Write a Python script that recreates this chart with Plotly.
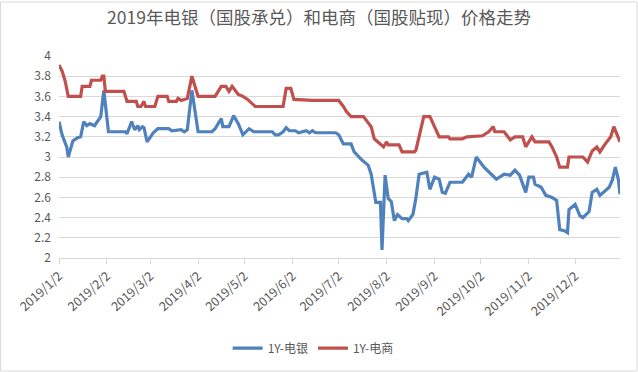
import plotly.graph_objects as go

# 1Y-电银 (blue)
bank_dates = ["2019-01-02","2019-01-04","2019-01-07","2019-01-08","2019-01-11","2019-01-14","2019-01-16","2019-01-18",
              "2019-01-20","2019-01-22","2019-01-25","2019-01-27","2019-01-29","2019-01-31","2019-02-03","2019-02-14",
              "2019-02-15","2019-02-18","2019-02-20","2019-02-22","2019-02-23","2019-02-25","2019-02-26","2019-02-28",
              "2019-03-04","2019-03-07","2019-03-14","2019-03-16","2019-03-22","2019-03-24","2019-03-26","2019-03-29",
              "2019-04-02","2019-04-11","2019-04-13","2019-04-15","2019-04-17","2019-04-18","2019-04-22","2019-04-25",
              "2019-04-28","2019-05-01","2019-05-03","2019-05-05","2019-05-08","2019-05-20","2019-05-22","2019-05-24",
              "2019-05-27","2019-05-29","2019-05-31","2019-06-04","2019-06-06","2019-06-11","2019-06-13","2019-06-15",
              "2019-06-17","2019-06-30","2019-07-02","2019-07-05","2019-07-10","2019-07-12","2019-07-17","2019-07-21",
              "2019-07-23","2019-07-26","2019-07-29","2019-07-30","2019-08-01","2019-08-03","2019-08-05","2019-08-07",
              "2019-08-09","2019-08-12","2019-08-15","2019-08-16","2019-08-19","2019-08-21","2019-08-23","2019-08-28",
              "2019-08-30","2019-09-02","2019-09-05","2019-09-07","2019-09-09","2019-09-12","2019-09-20","2019-09-24",
              "2019-09-26","2019-09-29","2019-10-04","2019-10-09","2019-10-12","2019-10-17","2019-10-21","2019-10-24",
              "2019-10-27","2019-10-31","2019-11-02","2019-11-05","2019-11-06","2019-11-10","2019-11-13","2019-11-17",
              "2019-11-20","2019-11-22","2019-11-25","2019-11-27","2019-11-28","2019-12-02","2019-12-05","2019-12-07",
              "2019-12-11","2019-12-13","2019-12-16","2019-12-18","2019-12-24","2019-12-26","2019-12-28","2019-12-30",
              "2019-12-31"]
bank_values = [3.35,3.22,3.10,3.00,3.16,3.19,3.20,3.35,
               3.31,3.33,3.31,3.35,3.40,3.66,3.25,3.25,
               3.23,3.35,3.27,3.31,3.27,3.30,3.29,3.15,
               3.24,3.28,3.28,3.26,3.27,3.25,3.27,3.66,
               3.25,3.25,3.28,3.33,3.38,3.30,3.30,3.41,
               3.33,3.22,3.25,3.28,3.25,3.25,3.22,3.22,
               3.25,3.29,3.26,3.26,3.24,3.26,3.24,3.26,
               3.24,3.24,3.22,3.13,3.13,3.05,2.97,2.92,
               2.83,2.55,2.55,2.08,2.82,2.59,2.56,2.37,
               2.43,2.39,2.39,2.37,2.43,2.60,2.83,2.85,
               2.68,2.80,2.78,2.65,2.64,2.75,2.75,2.83,
               2.80,3.00,2.90,2.83,2.78,2.83,2.82,2.87,
               2.82,2.65,2.80,2.80,2.73,2.70,2.62,2.60,
               2.57,2.28,2.27,2.25,2.48,2.53,2.42,2.40,
               2.46,2.65,2.68,2.62,2.70,2.77,2.90,2.77,
               2.63]

# 1Y-电商 (red)
comm_dates = ["2019-01-02","2019-01-04","2019-01-06","2019-01-08","2019-01-16","2019-01-17","2019-01-22","2019-01-23",
              "2019-01-29","2019-01-30","2019-01-31","2019-02-01","2019-02-13","2019-02-14","2019-02-15","2019-02-21",
              "2019-02-22","2019-02-24","2019-02-26","2019-02-27","2019-03-05","2019-03-07","2019-03-13","2019-03-14",
              "2019-03-19","2019-03-20","2019-03-22","2019-03-26","2019-03-29","2019-04-02","2019-04-13","2019-04-17",
              "2019-04-20","2019-04-22","2019-04-24","2019-04-28","2019-05-01","2019-05-04","2019-05-08","2019-05-09",
              "2019-05-27","2019-05-29","2019-06-01","2019-06-03","2019-06-15","2019-07-02","2019-07-05","2019-07-07",
              "2019-07-10","2019-07-18","2019-07-23","2019-07-25","2019-07-31","2019-08-02","2019-08-03","2019-08-10",
              "2019-08-12","2019-08-20","2019-08-21","2019-08-26","2019-08-30","2019-09-05","2019-09-11","2019-09-12",
              "2019-09-20","2019-09-23","2019-10-03","2019-10-07","2019-10-10","2019-10-11","2019-10-17","2019-10-21",
              "2019-10-24","2019-10-29","2019-10-31","2019-11-04","2019-11-06","2019-11-15","2019-11-17","2019-11-20",
              "2019-11-22","2019-11-27","2019-11-28","2019-12-07","2019-12-10","2019-12-13","2019-12-16","2019-12-18",
              "2019-12-21","2019-12-25","2019-12-27","2019-12-29","2019-12-31"]
comm_values = [3.91,3.85,3.75,3.60,3.60,3.70,3.70,3.76,
               3.76,3.80,3.80,3.65,3.65,3.60,3.55,3.55,
               3.50,3.50,3.55,3.50,3.50,3.60,3.60,3.55,
               3.55,3.58,3.56,3.58,3.80,3.60,3.60,3.70,
               3.70,3.65,3.70,3.62,3.60,3.57,3.52,3.50,
               3.50,3.68,3.68,3.57,3.56,3.56,3.50,3.45,
               3.40,3.40,3.30,3.18,3.10,3.15,3.12,3.12,
               3.05,3.05,3.07,3.40,3.40,3.20,3.20,3.18,
               3.18,3.20,3.21,3.25,3.30,3.25,3.25,3.17,
               3.20,3.20,3.10,3.20,3.15,3.15,3.10,3.00,
               2.90,2.90,3.00,3.00,2.95,3.06,3.10,3.05,
               3.12,3.20,3.30,3.23,3.15]

tick_dates = ["2019-%02d-02" % m for m in range(1, 13)]
tick_labels = ["2019/%d/2" % m for m in range(1, 13)]

title_text = "2019年电银（国股承兑）和电商（国股贴现）价格走势"
font_family = "Noto Sans CJK SC, Noto Sans, sans-serif"

fig = go.Figure()
fig.add_trace(go.Scatter(x=bank_dates, y=bank_values, mode="lines", name="1Y-电银",
                         line=dict(color="#4F81BD", width=3.2)))
fig.add_trace(go.Scatter(x=comm_dates, y=comm_values, mode="lines", name="1Y-电商",
                         line=dict(color="#C0504D", width=3.2)))

fig.update_layout(
    width=638, height=372,
    margin=dict(l=59, r=18, t=56, b=114, autoexpand=False),
    paper_bgcolor="white", plot_bgcolor="white",
    font=dict(family=font_family, color="#595959", size=11),
    title=dict(text=title_text, x=0.5, xanchor="center", y=0.952, yanchor="middle",
               font=dict(size=17.5, color="#595959", family=font_family)),
    showlegend=True,
    legend=dict(orientation="h", x=0.453, xanchor="center", y=-0.446, yanchor="middle",
                font=dict(size=12, color="#595959"), itemwidth=30,
                bgcolor="rgba(0,0,0,0)"),
    shapes=[dict(type="rect", xref="paper", yref="paper", x0=-58.5/561, x1=1+17/561,
                 y0=-113/202, y1=1+54/202, line=dict(color="#D9D9D9", width=1))],
)
fig.update_xaxes(type="date", range=["2019-01-02", "2019-12-31"], automargin=False,
                 tickmode="array", tickvals=tick_dates, ticktext=tick_labels,
                 tickangle=-42, showgrid=False, showline=True, linecolor="#D9D9D9",
                 ticks="outside", ticklen=5, tickcolor="#D9D9D9",
                 tickfont=dict(size=12.5, color="#595959"))
fig.update_yaxes(range=[2, 4], dtick=0.2, tickformat="~g", showgrid=True, gridcolor="#D9D9D9",
                 automargin=False,
                 zeroline=False, showline=False, tickfont=dict(size=12, color="#595959"),
                 ticks="", ticklabelstandoff=7)

fig.write_html("out.html", config={"displayModeBar": False},
               post_script="document.body.style.margin='0';")
